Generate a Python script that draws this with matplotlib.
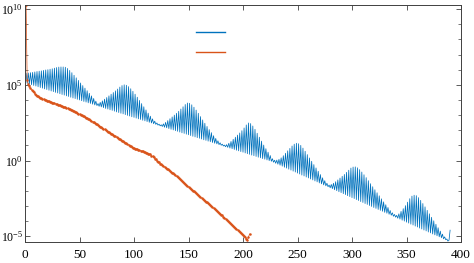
import numpy as np
import matplotlib
matplotlib.use('Agg')
import matplotlib.pyplot as plt
from matplotlib.lines import Line2D
from matplotlib.ticker import FixedLocator, NullFormatter, LogFormatterSciNotation

##### DATA (log10 values) #####
# blue series, odd x = 1, 3, ..., 389 (tops of the zigzag)
blue_upper = [
    5.75, 5.78, 5.80, 5.82, 5.85, 5.88, 5.90, 5.92, 5.95, 5.98, 6.00, 6.03, 6.06, 6.10, 6.14, 6.17, 6.18, 6.18,
    6.16, 6.08, 5.95, 5.80, 5.63, 5.46, 5.29, 5.12, 4.95, 4.78, 4.61, 4.44, 4.27, 4.10, 3.92, 3.76,
    3.84, 3.94, 4.05, 4.16, 4.27, 4.38, 4.49, 4.60, 4.72, 4.85, 4.95, 5.00, 4.97, 4.88, 4.74, 4.57,
    4.38, 4.18, 3.97, 3.76, 3.55, 3.34, 3.13, 2.93, 2.75, 2.60, 2.48, 2.40, 2.36,
    2.42, 2.52, 2.64, 2.76, 2.88, 3.00, 3.12, 3.25, 3.40, 3.55, 3.70, 3.80, 3.78, 3.68, 3.52, 3.33,
    3.12, 2.90, 2.68, 2.46, 2.25, 2.04, 1.84, 1.64, 1.46, 1.30, 1.17, 1.08, 1.02,
    1.05, 1.14, 1.26, 1.40, 1.54, 1.68, 1.82, 1.97, 2.15, 2.35, 2.48, 2.44, 2.28, 2.06, 1.80, 1.54,
    1.28, 1.02, 0.78, 0.55, 0.33, 0.12, 0.02,
    0.03, 0.08, 0.18, 0.32, 0.48, 0.64, 0.80, 0.96, 1.08, 1.14, 1.11, 1.00, 0.82, 0.61, 0.39, 0.17,
    -0.05, -0.27, -0.49, -0.71, -0.93, -1.14, -1.33, -1.50, -1.62,
    -1.58, -1.50, -1.40, -1.28, -1.16, -1.04, -0.92, -0.78, -0.64, -0.50, -0.43, -0.42, -0.48, -0.60,
    -0.76, -0.94, -1.13, -1.33, -1.53, -1.73, -1.93, -2.13, -2.33, -2.53, -2.73, -2.92, -3.10, -3.30,
    -3.45, -3.56, -3.62,
    -3.52, -3.36, -3.18, -2.98, -2.75, -2.52, -2.35, -2.29, -2.32, -2.45, -2.63, -2.84, -3.06, -3.29,
    -3.52, -3.75, -3.98, -4.21, -4.44, -4.66, -4.86, -5.04, -5.18, -5.26,
]
# blue series, even x = 2, 4, ..., 390 (bottoms of the zigzag)
blue_lower = [
    5.10, 5.05, 5.01, 4.96, 4.92, 4.87, 4.82, 4.78, 4.73, 4.69, 4.64, 4.59, 4.55, 4.50, 4.46, 4.41,
    4.36, 4.32, 4.27, 4.23, 4.18, 4.13, 4.09, 4.04, 4.00, 3.95, 3.90, 3.86, 3.81, 3.77, 3.72, 3.67,
    3.63, 3.58, 3.54, 3.49, 3.44, 3.40, 3.35, 3.31, 3.26, 3.21, 3.17, 3.12, 3.08, 3.03, 2.98, 2.94,
    2.89, 2.85, 2.80, 2.75, 2.71, 2.66, 2.62, 2.57, 2.52, 2.48, 2.43, 2.39, 2.34, 2.29, 2.25, 2.20,
    2.16, 2.11, 2.06, 2.02, 1.97, 1.93, 1.88, 1.83, 1.79, 1.74, 1.70, 1.65, 1.60, 1.56, 1.51, 1.47,
    1.42, 1.37, 1.33, 1.28, 1.24, 1.19, 1.14, 1.10, 1.05, 1.01, 0.96, 0.91, 0.87, 0.82, 0.78, 0.73,
    0.68, 0.64, 0.59, 0.55, 0.50, 0.45, 0.41, 0.36, 0.32, 0.27, 0.22, 0.18, 0.13, 0.09, 0.04, -0.01,
    -0.05, -0.11, -0.18, -0.24, -0.31, -0.37, -0.44, -0.50, -0.57, -0.63, -0.70, -0.76, -0.83, -0.89,
    -0.96, -1.02, -1.09, -1.15, -1.22, -1.28, -1.35, -1.41, -1.48, -1.54, -1.61, -1.67, -1.73, -1.80,
    -1.86, -1.93, -1.99, -2.06, -2.12, -2.19, -2.25, -2.32, -2.38, -2.45, -2.51, -2.58, -2.64, -2.71,
    -2.77, -2.84, -2.90, -2.97, -3.03, -3.10, -3.16, -3.23, -3.29, -3.35, -3.42, -3.48, -3.55, -3.61,
    -3.68, -3.74, -3.81, -3.87, -3.94, -4.00, -4.07, -4.13, -4.20, -4.26, -4.33, -4.39, -4.46, -4.52,
    -4.59, -4.65, -4.72, -4.78, -4.85, -4.91, -4.97, -5.04, -5.10, -5.17, -5.23, -5.32, -4.60,
]
# orange series, x = 1, 2, ..., 206
orange_log = [
    10.26, 5.30, 5.05, 4.90, 4.78, 4.68, 4.58, 4.50, 4.42, 4.35, 4.29, 4.23, 4.18, 4.13,
    4.10, 4.08, 4.05, 4.02, 3.99, 3.96, 3.94, 3.91, 3.88, 3.85, 3.83, 3.80,
    3.77, 3.75, 3.72, 3.69, 3.67, 3.64, 3.61, 3.59, 3.56, 3.53, 3.51, 3.48, 3.45, 3.43, 3.40,
    3.36, 3.33, 3.29, 3.25, 3.21, 3.18, 3.14, 3.10, 3.06, 3.03, 2.99, 2.95, 2.91, 2.88, 2.84, 2.80,
    2.75, 2.71, 2.66, 2.61, 2.57, 2.52, 2.47, 2.43, 2.38, 2.33, 2.29, 2.24, 2.19, 2.15, 2.10,
    2.05, 2.01, 1.96, 1.91, 1.87, 1.82, 1.78, 1.73, 1.68, 1.64, 1.59, 1.54, 1.50, 1.45, 1.41,
    1.36, 1.31, 1.27, 1.22, 1.17, 1.13, 1.08, 1.04, 0.99, 0.94, 0.90, 0.85,
    0.82, 0.79, 0.77, 0.74, 0.71, 0.68, 0.65, 0.63, 0.60, 0.57, 0.54, 0.51, 0.49, 0.46, 0.43, 0.40,
    0.33, 0.27, 0.20, 0.13, 0.07, 0.00, -0.07, -0.13, -0.20,
    -0.25, -0.31, -0.36, -0.42, -0.47, -0.53, -0.58, -0.63, -0.69, -0.74, -0.80, -0.85,
    -0.91, -0.98, -1.04, -1.10, -1.17, -1.23, -1.29, -1.36, -1.42, -1.48, -1.55, -1.61, -1.67, -1.74, -1.80,
    -1.86, -1.92, -1.98, -2.04, -2.10, -2.16, -2.22, -2.29, -2.35, -2.41, -2.47, -2.53, -2.59, -2.65,
    -2.71, -2.77, -2.83, -2.89, -2.95, -3.01, -3.08, -3.14, -3.20, -3.26, -3.32, -3.38, -3.44, -3.50,
    -3.57, -3.63, -3.70, -3.77, -3.84, -3.90, -3.97, -4.04, -4.11, -4.17, -4.24, -4.31, -4.38, -4.44,
    -4.51, -4.58, -4.65, -4.71, -4.78, -4.85, -4.91, -4.98, -5.05, -5.15, -5.27, -5.05, -4.85,
]

x_ticks = [0, 50, 100, 150, 200, 250, 300, 350, 400]
y_major = [1e-5, 1e0, 1e5, 1e10]
y_minor = [10.0 ** k for k in range(-5, 11)]

blue_color = '#0072BD'
orange_color = '#D95319'

##### BUILD SERIES #####
n_blue = len(blue_upper) + len(blue_lower)
blue_y = np.empty(n_blue)
blue_y[0::2] = blue_upper
blue_y[1::2] = blue_lower
blue_x = np.arange(1, n_blue + 1)
orange_x = np.arange(1, len(orange_log) + 1)

##### PLOT #####
plt.rcParams['font.family'] = 'Liberation Serif'
plt.rcParams['mathtext.fontset'] = 'stix'

fig = plt.figure(figsize=(4.74, 2.63), dpi=100)
ax = fig.add_axes([25 / 474, 1 - 242 / 263, 436 / 474, 237 / 263])

ax.plot(blue_x, 10.0 ** blue_y, color=blue_color, lw=0.55)
ax.plot(orange_x, 10.0 ** np.array(orange_log), color=orange_color, lw=0.5,
        marker='.', markersize=1.6)
ax.set_yscale('log')

ax.set_xlim(0, 400)
ax.set_ylim(10 ** -5.38, 10 ** 10.27)
ax.xaxis.set_major_locator(FixedLocator(x_ticks))
ax.yaxis.set_major_locator(FixedLocator(y_major))
ax.yaxis.set_major_formatter(LogFormatterSciNotation())
ax.yaxis.set_minor_locator(FixedLocator(y_minor))
ax.yaxis.set_minor_formatter(NullFormatter())

ax.tick_params(which='both', direction='in', top=True, right=True, color='#404040')
ax.tick_params(axis='x', labelsize=9.5, pad=5)
ax.tick_params(axis='y', labelsize=8.5, pad=1.5)
ax.tick_params(which='major', length=3.5, width=0.6)
ax.tick_params(which='minor', length=2, width=0.5)
for s in ax.spines.values():
    s.set_color('#404040')
    s.set_linewidth(0.7)

# legend entries carry no text in the original
handles = [Line2D([], [], color=blue_color, lw=1.0),
           Line2D([], [], color=orange_color, lw=1.0)]
ax.legend(handles, [' ', ' '], loc='upper left', bbox_to_anchor=(0.392, 0.905),
          frameon=False, handlelength=2.2, fontsize=9.5, borderpad=0,
          borderaxespad=0, labelspacing=0.55)

fig.savefig('out.png', dpi=100)
